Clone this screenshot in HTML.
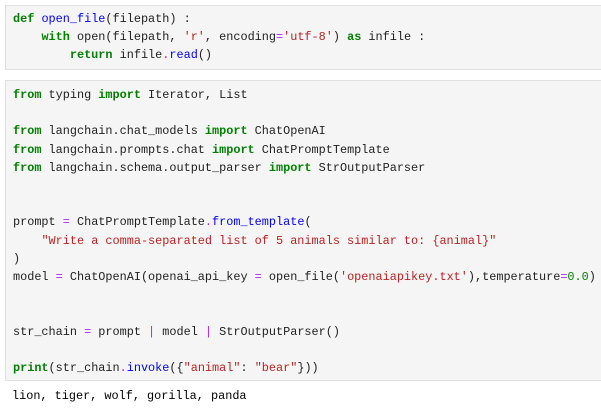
<!DOCTYPE html>
<html><head><style>
body{margin:0;background:#fff;width:601px;height:411px;overflow:hidden;position:relative;font-family:"Liberation Mono","DejaVu Sans Mono",monospace;font-size:11.85px;color:#212121}
.cell{position:absolute;left:5px;width:600px;background:#f5f5f5;border:1px solid #e0e0e0;box-sizing:border-box}
pre{margin:0;position:absolute;left:7px;font:inherit;line-height:18.2px;white-space:pre}
.k{color:#008000;font-weight:bold}.f{color:#0000ff}.s{color:#ba2121}.o{color:#aa22ff}.n{color:#008000}
</style></head><body>
<div class="cell" style="top:5px;height:65px"><pre style="top:4px"><span class="k">def</span> <span class="f">open_file</span>(filepath) :
    <span class="k">with</span> open(filepath, <span class="s">'r'</span>, encoding<span class="o">=</span><span class="s">'utf-8'</span>) <span class="k">as</span> infile :
        <span class="k">return</span> infile<span class="o">.</span><span class="f">read</span>()</pre></div>
<div class="cell" style="top:80px;height:301px"><pre style="top:5px"><span class="k">from</span> typing <span class="k">import</span> Iterator, List

<span class="k">from</span> langchain.chat_models <span class="k">import</span> ChatOpenAI
<span class="k">from</span> langchain.prompts.chat <span class="k">import</span> ChatPromptTemplate
<span class="k">from</span> langchain.schema.output_parser <span class="k">import</span> StrOutputParser


prompt <span class="o">=</span> ChatPromptTemplate<span class="o">.</span><span class="f">from_template</span>(
    <span class="s">"Write a comma-separated list of 5 animals similar to: {animal}"</span>
)
model <span class="o">=</span> ChatOpenAI(openai_api_key <span class="o">=</span> open_file(<span class="s">'openaiapikey.txt'</span>),temperature<span class="o">=</span><span class="n">0.0</span>)


str_chain <span class="o">=</span> prompt <span class="o">|</span> model <span class="o">|</span> StrOutputParser()

<span class="k">print</span>(str_chain<span class="o">.</span><span class="f">invoke</span>({<span class="s">"animal"</span>: <span class="s">"bear"</span>}))</pre></div>
<pre style="top:387px;left:12px;color:#000">lion, tiger, wolf, gorilla, panda</pre>
</body></html>
